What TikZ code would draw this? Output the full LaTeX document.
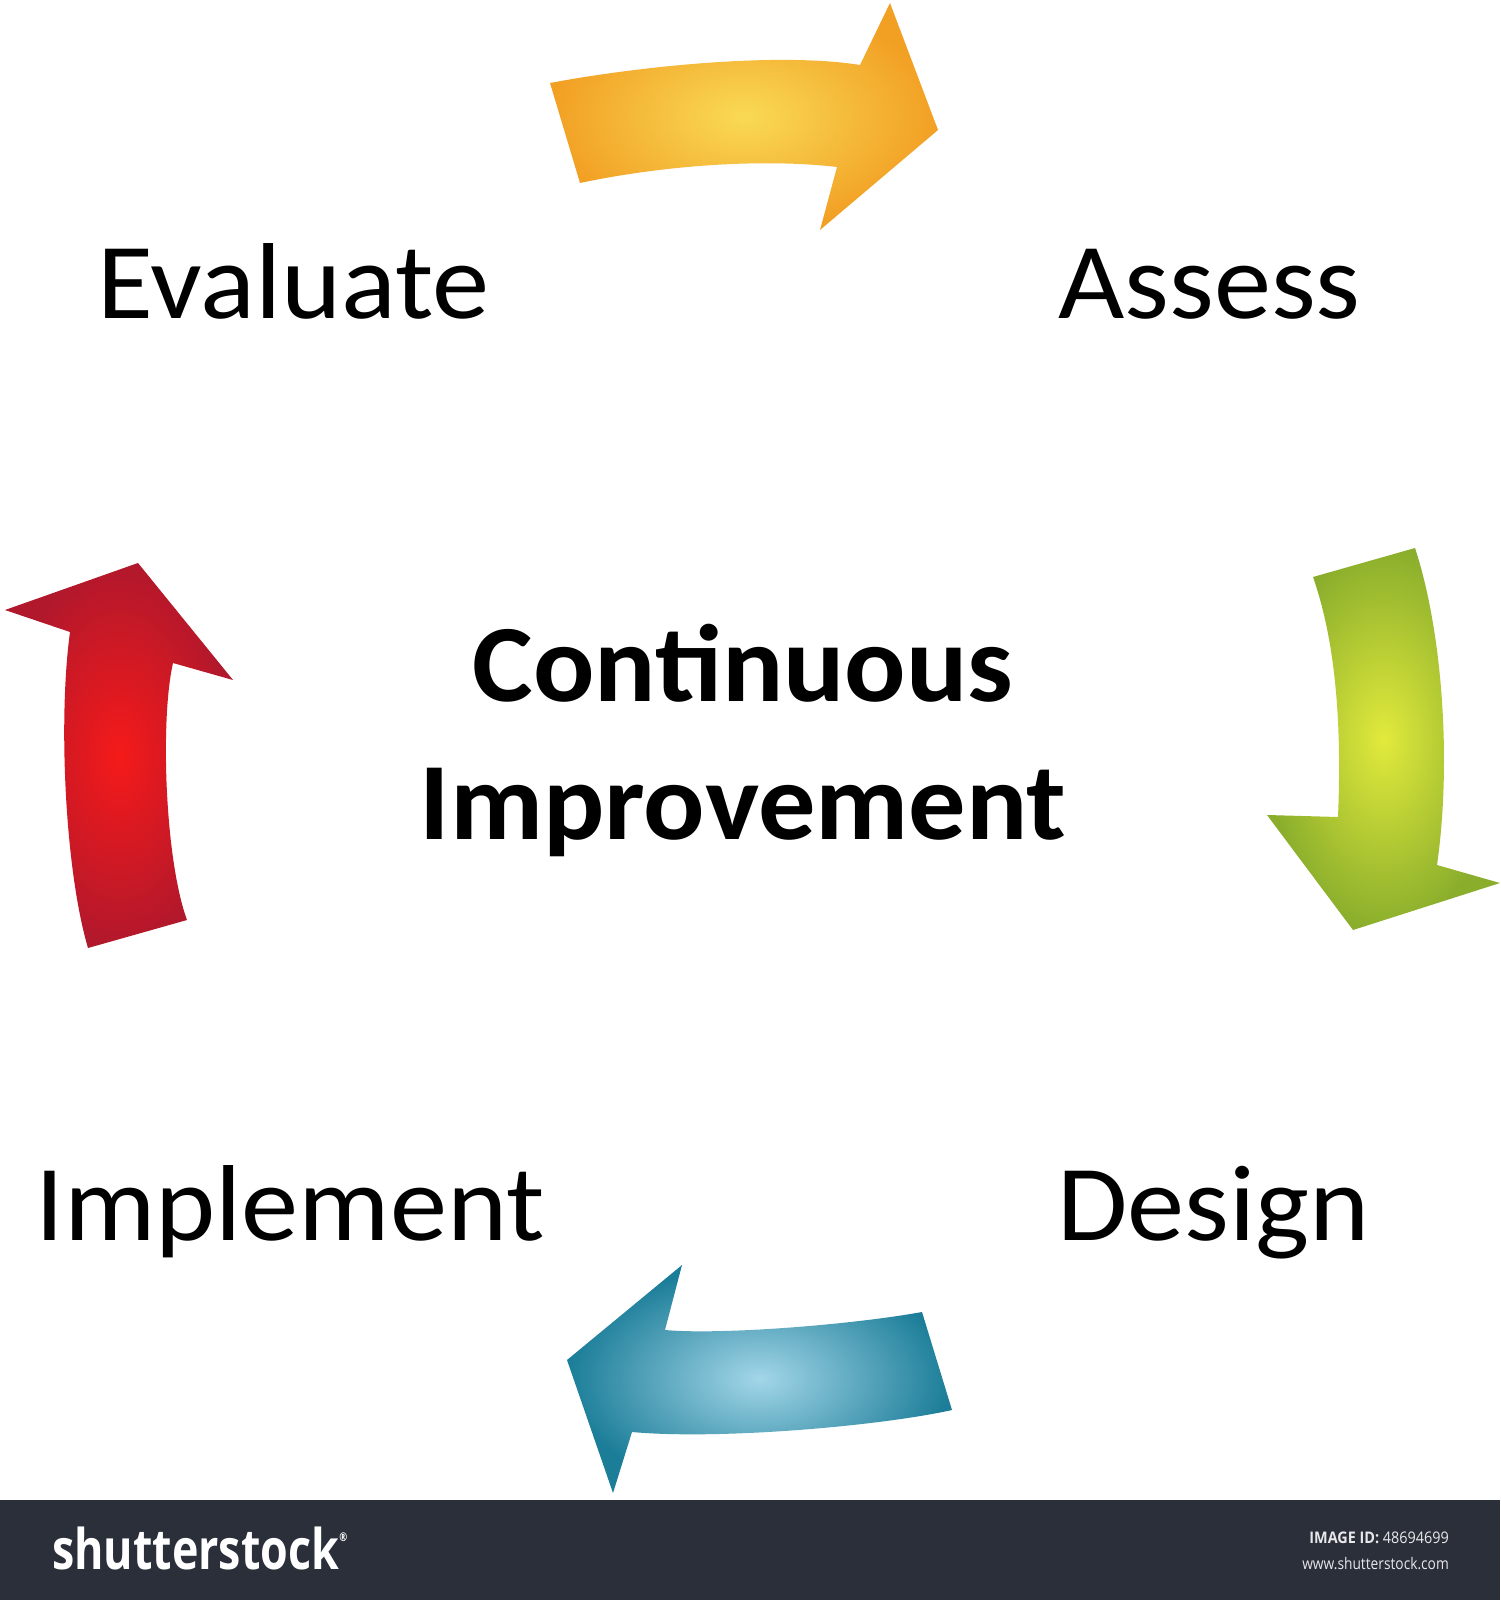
\documentclass[tikz,border=0pt]{standalone}
\usepackage{fontspec}
\setmainfont{Carlito}
\newfontfamily\logofont{Open Sans}
\usetikzlibrary{shadings}
\definecolor{orgin}{HTML}{F9DA55}
\definecolor{orgout}{HTML}{F2A024}
\definecolor{grnin}{HTML}{E2EA3C}
\definecolor{grnout}{HTML}{8AAE2C}
\definecolor{tealin}{HTML}{A3D6E8}
\definecolor{tealout}{HTML}{1B7D98}
\definecolor{redin}{HTML}{F51A1A}
\definecolor{redout}{HTML}{B1182C}
\definecolor{barcol}{HTML}{2A2F3A}
\definecolor{bartext}{HTML}{E8E8EA}
\tikzset{
  steplabel/.style={anchor=base west, inner sep=0pt, text=black, xscale=1.06, font=\fontsize{108}{108}\selectfont},
  titlelabel/.style={anchor=base, inner sep=0pt, text=black, xscale=1.04, font=\bfseries\fontsize{110}{110}\selectfont},
}
\begin{document}
\begin{tikzpicture}[x=1pt,y=-1pt]
\useasboundingbox (0,0) rectangle (1500,1600);
\fill[white] (0,0) rectangle (1500,1600);

% orange arrow (top)
\shade[inner color=orgin, outer color=orgout]
  (550,83) .. controls (640,66) and (780,52) .. (860,65)
  -- (890,3) -- (938,130) -- (820,230) -- (837,167)
  .. controls (760,158) and (660,166) .. (580,183) -- cycle;

% green arrow (right)
\shade[inner color=grnin, outer color=grnout]
  (1313,577) -- (1415,548)
  .. controls (1442,630) and (1452,760) .. (1437,865)
  -- (1500,883) -- (1353,930) -- (1267,815) -- (1338,817)
  .. controls (1342,720) and (1335,640) .. (1313,577) -- cycle;

% teal arrow (bottom)
\shade[inner color=tealin, outer color=tealout]
  (922,1312) -- (952,1410)
  .. controls (880,1426) and (720,1440) .. (632,1432)
  -- (613,1493) -- (567,1360) -- (682,1265) -- (665,1330)
  .. controls (720,1335) and (850,1325) .. (922,1312) -- cycle;

% red arrow (left)
\shade[inner color=redin, outer color=redout]
  (88,948) -- (187,920)
  .. controls (165,860) and (160,720) .. (173,663)
  -- (233,680) -- (138,563) -- (5,610) -- (70,632)
  .. controls (58,720) and (65,870) .. (88,948) -- cycle;

% labels
\node[steplabel] (evaluate) at (97,318) {Evaluate};
\node[steplabel] (assess) at (1058,318) {Assess};
\node[steplabel] (implement) at (35,1240) {Implement};
\node[steplabel] (design) at (1057,1240) {Design};
\node[titlelabel] (cont) at (743,701) {Continuous};
\node[titlelabel] (impr) at (743,839) {Improvement};

% bottom bar
\fill[barcol] (0,1500) rectangle (1500,1600);
\node[anchor=base west, inner sep=0pt, text=white, xscale=0.8,
  font=\logofont\bfseries\fontsize{56}{56}\selectfont] (logo) at (52,1569) {shutterstock\raisebox{0.9ex}{\fontsize{12}{12}\selectfont ®}};
\node[anchor=base east, inner sep=0pt, text=bartext, xscale=0.9,
  font=\logofont\fontsize{16}{16}\selectfont] (imgid) at (1449,1543) {\textbf{IMAGE ID:} 48694699};
\node[anchor=base east, inner sep=0pt, text=bartext, xscale=0.86,
  font=\logofont\fontsize{16}{16}\selectfont] (url) at (1449,1569) {www.shutterstock.com};
\end{tikzpicture}
\end{document}
